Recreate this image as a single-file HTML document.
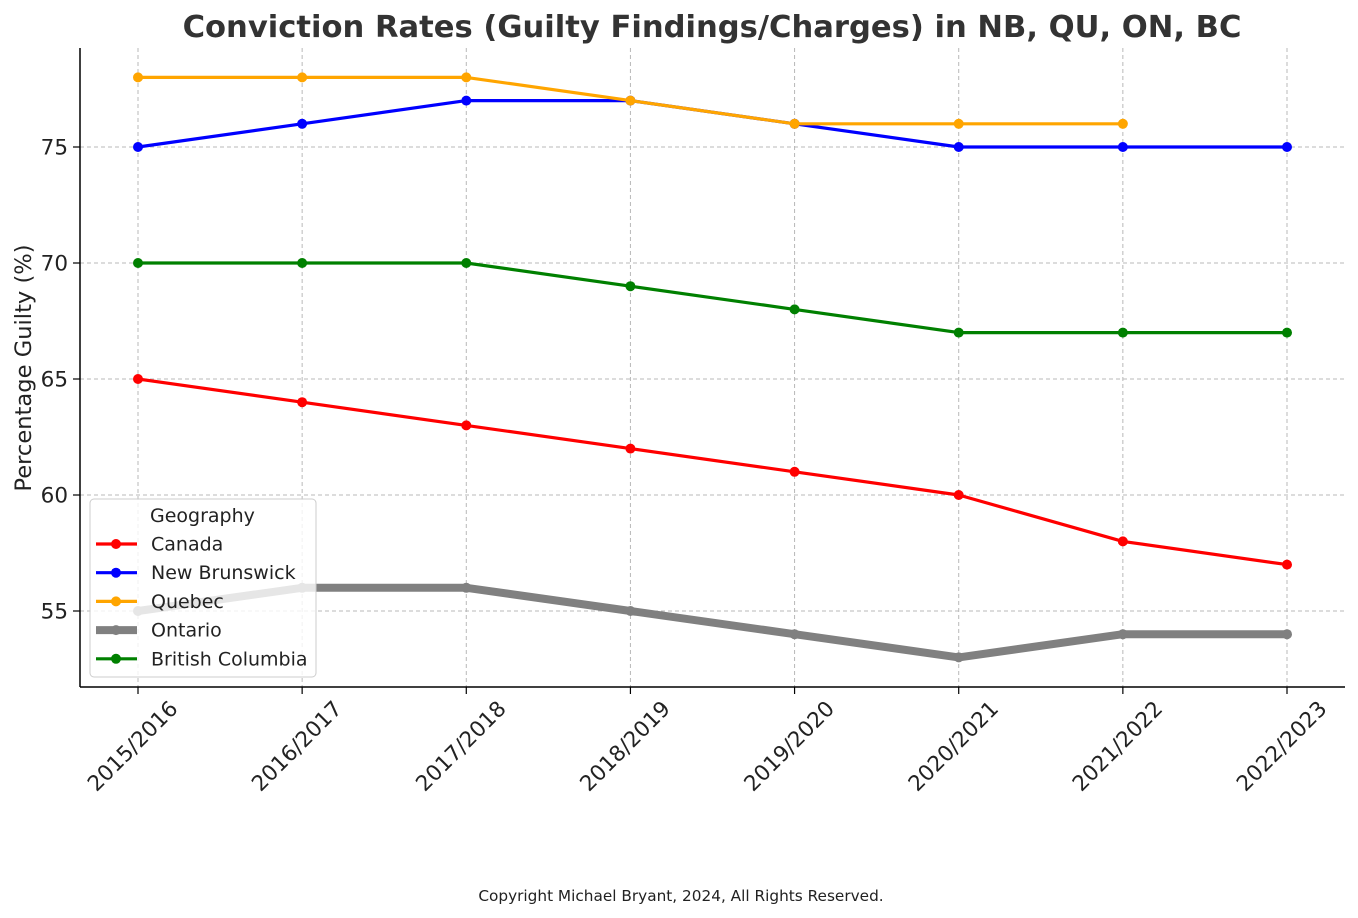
<!DOCTYPE html>
<html><head><meta charset="utf-8"><style>
html,body{margin:0;padding:0;background:#fff;}
svg{display:block;font-family:"DejaVu Sans","Liberation Sans",sans-serif;}
</style></head><body>
<svg id="chart" width="1358" height="918" viewBox="0 0 1358 918" xmlns="http://www.w3.org/2000/svg">
<rect width="1358" height="918" fill="#fff"/>
<text x="712" y="37" text-anchor="middle" font-size="30.6" font-weight="bold" fill="#333">Conviction Rates (Guilty Findings/Charges) in NB, QU, ON, BC</text>
<g id="grid"></g>
<g id="series"></g>
<g id="axes"></g>
<g id="legend"></g>
<text transform="translate(31,368) rotate(-90)" text-anchor="middle" font-size="22.6" fill="#222">Percentage Guilty (%)</text>
<text x="681" y="901" text-anchor="middle" font-size="15.3" fill="#222">Copyright Michael Bryant, 2024, All Rights Reserved.</text>
</svg>
<script>
const categories = ["2015/2016","2016/2017","2017/2018","2018/2019","2019/2020","2020/2021","2021/2022","2022/2023"];
const canada = [65,64,63,62,61,60,58,57];
const newBrunswick = [75,76,77,77,76,75,75,75];
const quebec = [78,78,78,77,76,76,76];
const ontario = [55,56,56,55,54,53,54,54];
const britishColumbia = [70,70,70,69,68,67,67,67];
const yTicks = [55,60,65,70,75];
const seriesNames = ["Canada","New Brunswick","Quebec","Ontario","British Columbia"];

const NS="http://www.w3.org/2000/svg";
const L=80,R=1345,T=48,B=687;
const x0=138,dx=(1287-138)/7;
function xs(i){return x0+i*dx;}
function ys(v){return 147+(75-v)*23.2;}
function mk(tag,attrs,parent){const e=document.createElementNS(NS,tag);for(const k in attrs)e.setAttribute(k,attrs[k]);parent.appendChild(e);return e;}
const grid=document.getElementById('grid'),axes=document.getElementById('axes'),ser=document.getElementById('series'),leg=document.getElementById('legend');

categories.forEach((c,i)=>{
  const g=mk('line',{x1:xs(i),x2:xs(i),y1:T,y2:B,stroke:'#b8b8b8','stroke-dasharray':'4,3','stroke-width':1},grid);
  
  
  const t=mk('line',{x1:xs(i),x2:xs(i),y1:B,y2:B+7,stroke:'#000','stroke-width':1.2},axes);
  
  
  const tx=mk('text',{transform:`translate(${xs(i)+41},${B+23}) rotate(-45)`,'text-anchor':'end','font-size':21.5,fill:'#222'},axes);
  tx.textContent=c;
  
  
});
yTicks.forEach(v=>{
  const g=mk('line',{x1:L,x2:R,y1:ys(v),y2:ys(v),stroke:'#b8b8b8','stroke-dasharray':'4,3','stroke-width':1},grid);
  
  
  const t=mk('line',{x1:L-7,x2:L,y1:ys(v),y2:ys(v),stroke:'#000','stroke-width':1.2},axes);
  
  
  const tx=mk('text',{x:L-12,y:ys(v)+7.5,'text-anchor':'end','font-size':21.5,fill:'#222'},axes);
  tx.textContent=v;
  
  
});
const la=mk('line',{x1:L,x2:L,y1:T,y2:B,stroke:'#000','stroke-width':1.5},axes);


const ba=mk('line',{x1:L,x2:R,y1:B,y2:B,stroke:'#000','stroke-width':1.5},axes);



const data=[canada,newBrunswick,quebec,ontario,britishColumbia];
const colors=['#ff0000','#0000ff','#ffa500','#808080','#008000'];
const widths=[3.2,3.2,3.2,8,3.2];
const slugs=['canada','new-brunswick','quebec','ontario','british-columbia'];
data.forEach((arr,s)=>{
  const g=mk('g',{},ser);
  
  
  const p=mk('polyline',{points:arr.map((v,i)=>xs(i)+','+ys(v)).join(' '),fill:'none',stroke:colors[s],'stroke-width':widths[s],'stroke-linejoin':'round'},g);
  
  
  arr.forEach((v,i)=>{
    const c=mk('circle',{cx:xs(i),cy:ys(v),r:5,fill:colors[s]},g);
    
    
  });
});

const box=mk('rect',{x:90,y:499,width:226,height:178,rx:4,fill:'rgba(255,255,255,0.8)',stroke:'#ccc','stroke-width':1},leg);


const lt=mk('text',{x:150,y:522,'font-size':19,fill:'#222'},leg);
lt.textContent='Geography';


seriesNames.forEach((n,s)=>{
  const y=544+s*28.7;
  const e=mk('g',{},leg);
  
  
  mk('line',{x1:96,x2:137,y1:y,y2:y,stroke:colors[s],'stroke-width':widths[s]},e);
  mk('circle',{cx:116,cy:y,r:5,fill:colors[s]},e);
  const t=mk('text',{x:151,y:y+6.5,'font-size':19,fill:'#222'},e);
  t.textContent=n;
});
</script>
</body></html>
